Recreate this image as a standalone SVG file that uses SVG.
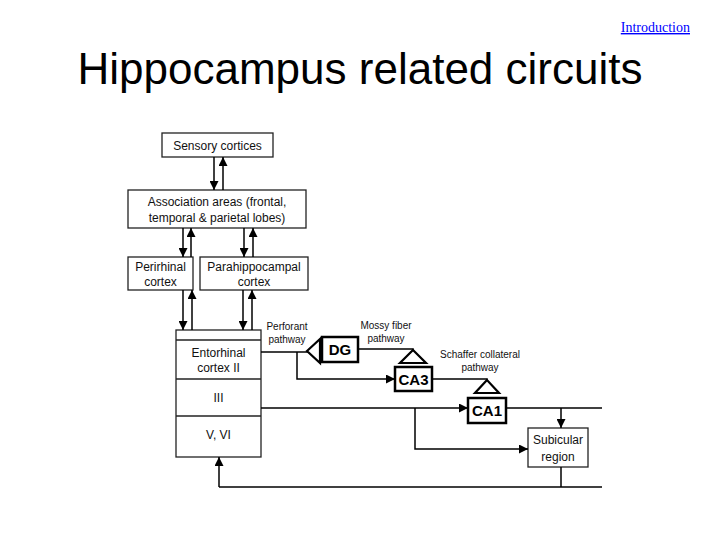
<svg xmlns="http://www.w3.org/2000/svg" width="720" height="540" viewBox="0 0 720 540">
<defs><marker id="a" viewBox="0 0 10 10" refX="10" refY="5" markerWidth="9" markerHeight="9" markerUnits="userSpaceOnUse" orient="auto"><path d="M0,0L10,5L0,10z" fill="#000"/></marker></defs>
<style>
.b{fill:#fff;stroke:#222;stroke-width:1.3}
.k{fill:#fff;stroke:#000;stroke-width:2.5}
.t{font-family:"Liberation Sans",Arial,sans-serif;font-size:12px;fill:#111;text-anchor:middle}
.s{font-family:"Liberation Sans",Arial,sans-serif;font-size:10px;fill:#111;text-anchor:middle}
.g{font-family:"Liberation Sans",Arial,sans-serif;font-size:15px;font-weight:bold;text-anchor:middle}
.l{fill:none;stroke:#000;stroke-width:1.5}
.h{fill:none;stroke:#000;stroke-width:2.2}
</style>
<rect width="720" height="540" fill="#fff"/>
<text x="690" y="32" font-family="Liberation Serif,serif" font-size="14" fill="#00f" text-anchor="end" text-decoration="underline">Introduction</text>
<text x="360" y="84" font-family="Liberation Sans,Arial,sans-serif" font-size="44" text-anchor="middle">Hippocampus related circuits</text>
<g id="sensory"><rect class="b" x="162" y="133" width="111" height="24"/><text class="t" x="217.5" y="150">Sensory cortices</text></g>
<g id="assoc"><rect class="b" x="128" y="190" width="178" height="38"/><text class="t" x="217" y="206">Association areas (frontal,</text><text class="t" x="217" y="222">temporal &amp; parietal lobes)</text></g>
<g id="perirhinal"><rect class="b" x="128" y="257" width="65" height="33"/><text class="t" x="160.5" y="271">Perirhinal</text><text class="t" x="160.5" y="286">cortex</text></g>
<g id="parahippocampal"><rect class="b" x="200" y="257" width="108" height="33"/><text class="t" x="254" y="271">Parahippocampal</text><text class="t" x="254" y="286">cortex</text></g>
<g id="entorhinal"><rect class="b" x="176" y="330" width="85" height="127"/><line class="b" x1="176" y1="340" x2="261" y2="340"/><line class="b" x1="176" y1="379" x2="261" y2="379"/><line class="b" x1="176" y1="416" x2="261" y2="416"/><text class="t" x="218.5" y="357">Entorhinal</text><text class="t" x="218.5" y="372">cortex II</text><text class="t" x="218.5" y="402">III</text><text class="t" x="218.5" y="439">V, VI</text></g>
<g id="dg"><rect class="k" x="322" y="337" width="36" height="25"/><text class="g" x="340" y="355">DG</text></g>
<g id="ca3"><rect class="k" x="395" y="367" width="37" height="24"/><text class="g" x="413.5" y="385">CA3</text></g>
<g id="ca1"><rect class="k" x="468" y="398" width="38" height="25"/><text class="g" x="487" y="416">CA1</text></g>
<g id="subicular"><rect class="b" x="528" y="428" width="60" height="39"/><text class="t" x="558" y="444">Subicular</text><text class="t" x="558" y="461">region</text></g>
<g id="labels"><text class="s" x="287" y="330">Perforant</text><text class="s" x="287" y="343">pathway</text><text class="s" x="386" y="329">Mossy fiber</text><text class="s" x="386" y="342">pathway</text><text class="s" x="480" y="358">Schaffer collateral</text><text class="s" x="480" y="371">pathway</text></g>
<g id="connectors">
<line class="l" x1="214" y1="157" x2="214" y2="190" marker-end="url(#a)"/><line class="l" x1="223" y1="190" x2="223" y2="157" marker-end="url(#a)"/>
<line class="l" x1="183" y1="228" x2="183" y2="257" marker-end="url(#a)"/><line class="l" x1="191" y1="257" x2="191" y2="228" marker-end="url(#a)"/>
<line class="l" x1="244" y1="228" x2="244" y2="257" marker-end="url(#a)"/><line class="l" x1="253" y1="257" x2="253" y2="228" marker-end="url(#a)"/>
<line class="l" x1="183" y1="290" x2="183" y2="330" marker-end="url(#a)"/><line class="l" x1="192" y1="330" x2="192" y2="290" marker-end="url(#a)"/>
<line class="l" x1="243" y1="290" x2="243" y2="330" marker-end="url(#a)"/><line class="l" x1="252" y1="330" x2="252" y2="290" marker-end="url(#a)"/>
<polyline class="l" points="261,352 308,352"/><path class="h" d="M307,351L320,339L320,363Z"/>
<polyline class="l" points="297,352 297,379 395,379" marker-end="url(#a)"/>
<polyline class="l" points="358,349 413,349 413,350"/><path class="h" d="M413,350L400,363L426,363Z"/>
<polyline class="l" points="432,379 487,379 487,380"/><path class="h" d="M487,380L475,393L499,393Z"/>
<line class="l" x1="261" y1="408" x2="468" y2="408" marker-end="url(#a)"/>
<polyline class="l" points="415,408 415,449 528,449" marker-end="url(#a)"/>
<line class="l" x1="506" y1="408" x2="602" y2="408"/>
<line class="l" x1="561" y1="408" x2="561" y2="428" marker-end="url(#a)"/>
<polyline class="l" points="561,467 561,487"/>
<line class="l" x1="602" y1="487" x2="219" y2="487"/>
<line class="l" x1="219" y1="487" x2="219" y2="457" marker-end="url(#a)"/>
</g>
</svg>
